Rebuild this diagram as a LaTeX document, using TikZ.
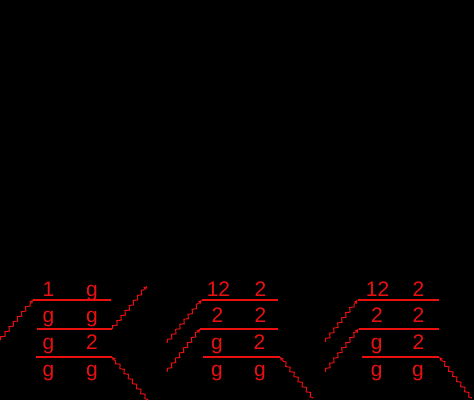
\documentclass[tikz,border=0pt]{standalone}
\usepackage{fontspec}
\setmainfont{Liberation Sans}
\usetikzlibrary{decorations.pathmorphing,arrows.meta}
\definecolor{lred}{RGB}{235,16,16}
\begin{document}
\begin{tikzpicture}[x=1pt,y=-1pt,
  lbl/.style={text=lred, font=\fontsize{21}{25}\selectfont, anchor=base, inner sep=0pt},
  sep/.style={draw=lred, line width=1.5pt},
  wave/.style={draw=lred, line width=1pt, decorate,
    decoration={snake, amplitude=1.6pt, segment length=6.5pt, pre length=1pt, post length=2.5pt},
    -{Stealth[length=4pt,width=4pt]}}]
\fill[black] (0,0) rectangle (474,400);
\useasboundingbox (0,0) rectangle (474,400);

% ---------- group 1 ----------
\node[lbl] (a11) at (48.5,296.5) {1};
\node[lbl] (a12) at (92,296.5) {g};
\node[lbl] (a21) at (48.5,322.5) {g};
\node[lbl] (a22) at (92,322.5) {g};
\node[lbl] (a31) at (48.5,349.5) {g};
\node[lbl] (a32) at (92,349.5) {2};
\node[lbl] (a41) at (48.5,376.5) {g};
\node[lbl] (a42) at (92,376.5) {g};
\coordinate (aL1) at (33,300);   \coordinate (aR1) at (111,300);
\coordinate (aL2) at (36.5,329); \coordinate (aR2) at (112,329);
\coordinate (aL3) at (36,357);   \coordinate (aR3) at (112,357);
\draw[sep] (aL1) -- (aR1);
\draw[sep] (aL2) -- (aR2);
\draw[sep] (aL3) -- (aR3);
\coordinate (aIn) at (0,340);
\coordinate (aOut1) at (147,286);
\coordinate (aOut2) at (148,400);
\draw[wave] (aIn) -- (aL1);
\draw[wave] (aR2) -- (aOut1);
\draw[wave] (aOut2) -- (aR3);

% ---------- group 2 ----------
\node[lbl] (b11) at (218.5,296.5) {12};
\node[lbl] (b12) at (260.5,296.5) {2};
\node[lbl] (b21) at (217.5,322.5) {2};
\node[lbl] (b22) at (260.5,322.5) {2};
\node[lbl] (b31) at (217,349.5) {g};
\node[lbl] (b32) at (259.5,349.5) {2};
\node[lbl] (b41) at (217,376.5) {g};
\node[lbl] (b42) at (260,376.5) {g};
\coordinate (bL1) at (201.7,300);   \coordinate (bR1) at (277.7,300);
\coordinate (bL2) at (200,329);     \coordinate (bR2) at (278.3,329);
\coordinate (bL3) at (203.3,357);   \coordinate (bR3) at (280,357);
\draw[sep] (bL1) -- (bR1);
\draw[sep] (bL2) -- (bR2);
\draw[sep] (bL3) -- (bR3);
\coordinate (bIn1) at (166.7,342.7);
\coordinate (bIn2) at (166.7,371.7);
\coordinate (bOut) at (313.3,398.3);
\draw[wave] (bIn1) -- (bL1);
\draw[wave] (bIn2) -- (bL2);
\draw[wave] (bOut) -- (bR3);

% ---------- group 3 ----------
\node[lbl] (c11) at (377.5,296.5) {12};
\node[lbl] (c12) at (418.5,296.5) {2};
\node[lbl] (c21) at (377,322.5) {2};
\node[lbl] (c22) at (418.5,322.5) {2};
\node[lbl] (c31) at (376.7,349.5) {g};
\node[lbl] (c32) at (418.5,349.5) {2};
\node[lbl] (c41) at (376.7,376.5) {g};
\node[lbl] (c42) at (418,376.5) {g};
\coordinate (cL1) at (357.5,300);   \coordinate (cR1) at (439,300);
\coordinate (cL2) at (358.5,329);   \coordinate (cR2) at (439,329);
\coordinate (cL3) at (362,357);     \coordinate (cR3) at (439.3,357);
\draw[sep] (cL1) -- (cR1);
\draw[sep] (cL2) -- (cR2);
\draw[sep] (cL3) -- (cR3);
\coordinate (cIn1) at (325,341.7);
\coordinate (cIn2) at (325,371.7);
\coordinate (cOut) at (471.7,398.3);
\draw[wave] (cIn1) -- (cL1);
\draw[wave] (cIn2) -- (cL2);
\draw[wave] (cOut) -- (cR3);
\end{tikzpicture}
\end{document}
